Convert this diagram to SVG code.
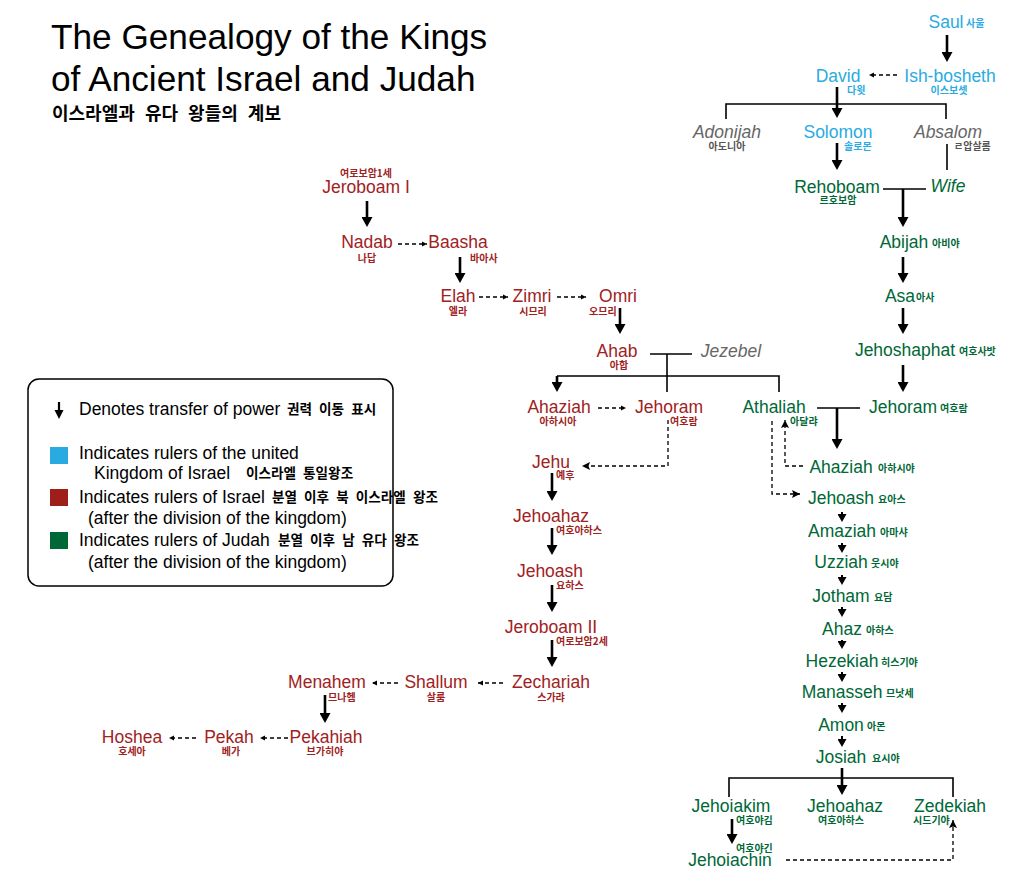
<svg xmlns="http://www.w3.org/2000/svg" width="1024" height="881" viewBox="0 0 1024 881">
<style>
text{font-family:"Liberation Sans",Arial,"Noto Sans CJK KR",sans-serif}
.nm{font-size:17.5px;text-anchor:middle}
.ko{font-family:"Noto Sans CJK KR","Noto Sans CJK SC",sans-serif;font-weight:bold;font-size:10px}
.kc{text-anchor:middle}
.u{fill:#29abe2}
.i{fill:#a0221e}
.j{fill:#006837}
.g{fill:#666666;font-style:italic}
.arr{stroke:#000;stroke-width:2.6;fill:none;marker-end:url(#ah)}
.sarr{stroke:#000;stroke-width:2;fill:none;marker-end:url(#as)}
.da{stroke:#000;stroke-width:1.3;fill:none;stroke-dasharray:4 3;marker-end:url(#ad)}
.db{stroke:#000;stroke-width:1.3;fill:none;stroke-dasharray:4 3;marker-end:url(#adb)}
.ln{stroke:#000;stroke-width:1.6;fill:none}
.lg{font-size:17.5px;fill:#000}
.lk{font-family:"Noto Sans CJK KR","Noto Sans CJK SC",sans-serif;font-weight:bold;font-size:13.6px;fill:#000;word-spacing:4px}
</style>
<defs>
<marker id="ah" markerUnits="userSpaceOnUse" markerWidth="11" markerHeight="11" refX="3" refY="5.5" orient="auto"><path d="M0,0 L10,5.5 L0,11 z" fill="#000"/></marker>
<marker id="as" markerUnits="userSpaceOnUse" markerWidth="9" markerHeight="9" refX="2" refY="4.5" orient="auto"><path d="M0,0 L8,4.5 L0,9 z" fill="#000"/></marker>
<marker id="ad" markerUnits="userSpaceOnUse" markerWidth="6" markerHeight="6" refX="5" refY="3" orient="auto"><path d="M0,0.5 L5,3 L0,5.5 z" fill="#000"/></marker>
<marker id="adb" markerUnits="userSpaceOnUse" markerWidth="9" markerHeight="9" refX="8" refY="4" orient="auto"><path d="M0,0 L8,4 L0,8 L1.5,4 z" fill="#000"/></marker>
</defs>
<rect width="1024" height="881" fill="#fff"/>

<g id="title">
<text x="51" y="49" font-size="35.2" fill="#000">The Genealogy of the Kings</text>
<text x="51" y="91" font-size="35.2" fill="#000">of Ancient Israel and Judah</text>
<text x="52" y="120" style="font-family:'Noto Sans CJK KR','Noto Sans CJK SC',sans-serif;font-weight:bold;font-size:18px;word-spacing:6px" fill="#000">이스라엘과 유다 왕들의 계보</text>
</g>

<g id="connectors">
<path class="arr" d="M947,35 V55"/>
<path class="arr" d="M837,87 V111"/>
<path class="arr" d="M837,143 V163"/>
<path class="arr" d="M903,189 V220"/>
<path class="arr" d="M903,257 V276"/>
<path class="arr" d="M903,308 V327"/>
<path class="arr" d="M903,365 V385"/>
<path class="arr" d="M837,408 V442"/>
<path class="arr" d="M367,201 V220"/>
<path class="arr" d="M460,257 V276"/>
<path class="arr" d="M620,308 V327"/>
<path class="arr" d="M552,473 V494"/>
<path class="arr" d="M552,528 V548"/>
<path class="arr" d="M552,585 V605"/>
<path class="arr" d="M552,640 V660"/>
<path class="arr" d="M325,695 V716"/>
<path class="arr" d="M842,768 V788"/>
<path class="arr" d="M732,819 V837"/>
<path class="arr" d="M557,376 V385"/>
<path class="sarr" d="M842,512 V516"/>
<path class="sarr" d="M842,543 V547"/>
<path class="sarr" d="M842,575 V579"/>
<path class="sarr" d="M842,607 V611"/>
<path class="sarr" d="M842,640 V643"/>
<path class="sarr" d="M842,672 V676"/>
<path class="sarr" d="M842,703 V707"/>
<path class="sarr" d="M842,736 V741"/>
<path class="da" d="M897,75 H869"/>
<path class="da" d="M398,244 H427"/>
<path class="da" d="M479,297 H508"/>
<path class="da" d="M557,297 H586"/>
<path class="da" d="M598,408 H626"/>
<path class="da" d="M503,683 H478"/>
<path class="da" d="M398,683 H372"/>
<path class="da" d="M288,738 H260"/>
<path class="da" d="M196,738 H169"/>
<path class="db" d="M668,420 V466 H582"/>
<path class="db" d="M803,466 H785 V420"/>
<path class="db" d="M772,421 V494 H800"/>
<path class="db" d="M786,860 H953 V820"/>
<path class="ln" d="M726,119 V104 H946 V119"/>
<path class="ln" d="M947,144 V170"/>
<path class="ln" d="M883,189 H926"/>
<path class="ln" d="M650,354 H692"/>
<path class="ln" d="M667,354 V392"/>
<path class="ln" d="M557,376 H779 V392"/>
<path class="ln" d="M817,408 H860"/>
<path class="ln" d="M729,797 V778 H953 V797"/>
</g>

<g id="saul"><text class="nm u" x="946" y="28">Saul</text><text class="ko u" x="966" y="27">사울</text></g>
<g id="david"><text class="nm u" x="838" y="82">David</text><text class="ko u" x="847" y="94">다윗</text></g>
<g id="ish-bosheth"><text class="nm u" x="950" y="82">Ish-bosheth</text><text class="ko kc u" x="949" y="94">이스보셋</text></g>
<g id="adonijah"><text class="nm g" x="727" y="138">Adonijah</text><text class="ko kc" fill="#555" x="727" y="150">아도니아</text></g>
<g id="solomon"><text class="nm u" x="838" y="138">Solomon</text><text class="ko u" x="844" y="150">솔로몬</text></g>
<g id="absalom"><text class="nm g" x="948" y="138">Absalom</text><text class="ko" fill="#555" x="954" y="150">ㄹ압살롬</text></g>
<g id="rehoboam"><text class="nm j" x="837" y="193">Rehoboam</text><text class="ko kc j" x="838" y="204">르호보암</text></g>
<g id="wife"><text class="nm j" x="948" y="192" font-style="italic">Wife</text></g>
<g id="abijah"><text class="nm j" x="904" y="248">Abijah</text><text class="ko j" x="932" y="247">아비야</text></g>
<g id="asa"><text class="nm j" x="900" y="302">Asa</text><text class="ko j" x="916" y="301">아사</text></g>
<g id="jehoshaphat"><text class="nm j" x="905" y="356">Jehoshaphat</text><text class="ko j" x="959" y="355">여호사밧</text></g>
<g id="jehoram-judah"><text class="nm j" x="903" y="413">Jehoram</text><text class="ko j" x="940" y="412">여호람</text></g>
<g id="athaliah"><text class="nm j" x="774" y="413">Athaliah</text><text class="ko j" x="790" y="425">아달랴</text></g>
<g id="ahaziah-judah"><text class="nm j" x="841" y="473">Ahaziah</text><text class="ko j" x="878" y="472">아하시야</text></g>
<g id="jehoash-judah"><text class="nm j" x="841" y="504">Jehoash</text><text class="ko j" x="878" y="503">요아스</text></g>
<g id="amaziah"><text class="nm j" x="842" y="537">Amaziah</text><text class="ko j" x="880" y="536">아마샤</text></g>
<g id="uzziah"><text class="nm j" x="841" y="568">Uzziah</text><text class="ko j" x="871" y="567">웃시야</text></g>
<g id="jotham"><text class="nm j" x="841" y="602">Jotham</text><text class="ko j" x="874" y="601">요담</text></g>
<g id="ahaz"><text class="nm j" x="842" y="635">Ahaz</text><text class="ko j" x="866" y="634">아하스</text></g>
<g id="hezekiah"><text class="nm j" x="842" y="667">Hezekiah</text><text class="ko j" x="881" y="666">히스기야</text></g>
<g id="manasseh"><text class="nm j" x="842" y="698">Manasseh</text><text class="ko j" x="886" y="697">므낫세</text></g>
<g id="amon"><text class="nm j" x="841" y="731">Amon</text><text class="ko j" x="867" y="730">아몬</text></g>
<g id="josiah"><text class="nm j" x="841" y="763">Josiah</text><text class="ko j" x="872" y="762">요시야</text></g>
<g id="jehoiakim"><text class="nm j" x="731" y="812">Jehoiakim</text><text class="ko j" x="736" y="824">여호야김</text></g>
<g id="jehoahaz-judah"><text class="nm j" x="845" y="812">Jehoahaz</text><text class="ko kc j" x="841" y="824">여호아하스</text></g>
<g id="zedekiah"><text class="nm j" x="950" y="812">Zedekiah</text><text class="ko j" x="913" y="824">시드기야</text></g>
<g id="jehoiachin"><text class="ko j" x="736" y="852">여호야긴</text><text class="nm j" x="730" y="866">Jehoiachin</text></g>

<g id="jeroboam1"><text class="ko kc i" x="366" y="177">여로보암1세</text><text class="nm i" x="366" y="193">Jeroboam I</text></g>
<g id="nadab"><text class="nm i" x="367" y="248">Nadab</text><text class="ko kc i" x="367" y="262">나답</text></g>
<g id="baasha"><text class="nm i" x="458" y="248">Baasha</text><text class="ko i" x="470" y="262">바아사</text></g>
<g id="elah"><text class="nm i" x="458" y="302">Elah</text><text class="ko kc i" x="458" y="315">엘라</text></g>
<g id="zimri"><text class="nm i" x="532" y="302">Zimri</text><text class="ko kc i" x="533" y="315">시므리</text></g>
<g id="omri"><text class="nm i" x="618" y="302">Omri</text><text class="ko i" x="589" y="315">오므리</text></g>
<g id="ahab"><text class="nm i" x="617" y="357">Ahab</text><text class="ko kc i" x="619" y="369">아합</text></g>
<g id="jezebel"><text class="nm g" x="731" y="357">Jezebel</text></g>
<g id="ahaziah-israel"><text class="nm i" x="559" y="413">Ahaziah</text><text class="ko kc i" x="558" y="425">아하시아</text></g>
<g id="jehoram-israel"><text class="nm i" x="669" y="413">Jehoram</text><text class="ko i" x="670" y="425">여호람</text></g>
<g id="jehu"><text class="nm i" x="551" y="468">Jehu</text><text class="ko i" x="556" y="479">예후</text></g>
<g id="jehoahaz-israel"><text class="nm i" x="551" y="522">Jehoahaz</text><text class="ko i" x="556" y="534">여호아하스</text></g>
<g id="jehoash-israel"><text class="nm i" x="550" y="577">Jehoash</text><text class="ko i" x="556" y="589">요하스</text></g>
<g id="jeroboam2"><text class="nm i" x="551" y="633">Jeroboam II</text><text class="ko i" x="556" y="645">여로보암2세</text></g>
<g id="zechariah"><text class="nm i" x="551" y="688">Zechariah</text><text class="ko kc i" x="551" y="701">스가랴</text></g>
<g id="shallum"><text class="nm i" x="436" y="688">Shallum</text><text class="ko kc i" x="436" y="701">살룸</text></g>
<g id="menahem"><text class="nm i" x="327" y="688">Menahem</text><text class="ko i" x="328" y="701">므나헴</text></g>
<g id="pekahiah"><text class="nm i" x="326" y="743">Pekahiah</text><text class="ko kc i" x="325" y="755">브가히야</text></g>
<g id="pekah"><text class="nm i" x="229" y="743">Pekah</text><text class="ko kc i" x="231" y="755">베가</text></g>
<g id="hoshea"><text class="nm i" x="132" y="743">Hoshea</text><text class="ko kc i" x="132" y="755">호세아</text></g>

<g id="legend">
<rect x="28" y="379" width="365" height="207" rx="11" fill="none" stroke="#000" stroke-width="1.5"/>
<path d="M59,402 V412" stroke="#000" stroke-width="2.2" fill="none"/>
<path d="M54.5,410 L59,419 L63.5,410 z" fill="#000"/>
<text class="lg" x="79" y="415">Denotes transfer of power</text>
<text class="lk" x="287" y="414">권력 이동 표시</text>
<rect x="50" y="447" width="18" height="17" fill="#29abe2"/>
<text class="lg" x="79" y="459">Indicates rulers of the united</text>
<text class="lg" x="94" y="479">Kingdom of Israel</text>
<text class="lk" x="246" y="478">이스라엘 통일왕조</text>
<rect x="50" y="489" width="18" height="17" fill="#9e1f1a"/>
<text class="lg" x="79" y="503">Indicates rulers of Israel</text>
<text class="lk" x="272" y="502">분열 이후 북 이스라엘 왕조</text>
<text class="lg" x="88" y="524">(after the division of the kingdom)</text>
<rect x="50" y="532" width="18" height="17" fill="#006837"/>
<text class="lg" x="79" y="546">Indicates rulers of Judah</text>
<text class="lk" x="278" y="545">분열 이후 남 유다 왕조</text>
<text class="lg" x="88" y="568">(after the division of the kingdom)</text>
</g>
</svg>
